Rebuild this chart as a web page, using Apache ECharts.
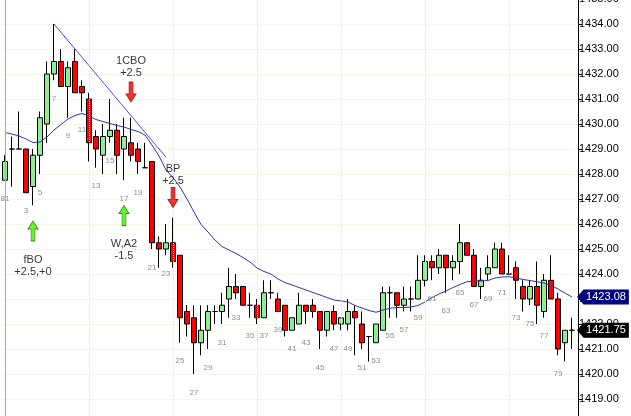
<!DOCTYPE html>
<html><head><meta charset="utf-8">
<script src="https://cdn.jsdelivr.net/npm/echarts@6/dist/echarts.min.js"></script>
<style>html,body{margin:0;padding:0;background:#fff}#c{width:631px;height:416px}</style>
</head><body><div id="c"></div>
<script>
// bar index 0 = previous session's bar 81, then bars 1..81
var opens  = [1427.75,1429.0,1429.0,1429.0,1427.5,1428.75,1430.0,1432.0,1432.5,1431.5,1432.5,1431.5,1431.0,1429.5,1428.75,1429.5,1429.75,1429.0,1429.25,1429.0,1428.25,1428.5,1425.25,1425.0,1425.25,1424.75,1422.5,1422.25,1421.25,1421.75,1422.5,1422.5,1423.0,1423.5,1423.5,1422.75,1422.75,1422.25,1423.25,1423.0,1422.75,1421.75,1422.0,1422.75,1422.75,1422.5,1421.75,1422.5,1422.0,1422.0,1422.5,1422.0,1421.5,1421.25,1421.75,1423.25,1423.25,1422.75,1423.0,1423.0,1423.75,1424.5,1424.25,1424.75,1424.25,1424.5,1425.25,1424.75,1423.5,1424.0,1424.25,1425.0,1424.0,1424.25,1423.5,1423.0,1423.5,1422.5,1423.75,1423.0,1421.25,1421.75];
var highs  = [1428.75,1429.5,1430.5,1429.0,1429.0,1430.5,1432.5,1434.0,1433.0,1432.5,1433.0,1431.75,1431.25,1429.75,1430.0,1431.0,1430.0,1430.25,1430.25,1429.25,1429.25,1428.5,1425.5,1426.0,1426.25,1424.75,1422.75,1422.75,1422.75,1422.75,1422.75,1423.25,1424.25,1424.0,1423.5,1423.25,1423.0,1423.75,1423.75,1423.25,1422.75,1422.25,1423.25,1422.75,1423.0,1422.5,1422.5,1422.75,1422.25,1423.0,1422.75,1422.5,1421.5,1422.0,1423.5,1423.5,1423.25,1423.5,1423.5,1424.75,1424.75,1424.75,1425.0,1424.75,1424.75,1426.0,1425.25,1425.0,1424.25,1424.75,1425.25,1425.25,1424.75,1424.5,1423.75,1423.75,1424.5,1424.0,1424.75,1423.25,1421.75,1422.25];
var lows   = [1427.75,1427.5,1429.0,1427.25,1426.75,1428.0,1429.25,1431.75,1431.5,1430.25,1431.25,1430.5,1428.5,1428.25,1428.0,1429.25,1428.0,1427.75,1428.5,1428.0,1428.25,1425.0,1424.25,1424.75,1424.25,1421.25,1421.5,1420.0,1420.75,1421.0,1422.0,1422.0,1422.25,1423.0,1422.75,1422.25,1422.0,1422.25,1423.0,1422.5,1421.5,1421.75,1422.0,1422.0,1422.25,1421.0,1421.5,1421.75,1421.75,1421.75,1420.75,1421.0,1420.5,1421.25,1421.75,1422.25,1422.25,1422.5,1422.5,1423.0,1423.5,1423.75,1424.0,1423.25,1423.75,1424.0,1424.75,1423.5,1423.0,1423.75,1424.25,1424.0,1424.0,1423.0,1422.5,1422.75,1422.0,1422.25,1423.0,1420.75,1420.5,1421.0];
var closes = [1428.5,1429.0,1429.0,1427.25,1428.75,1430.25,1432.0,1432.5,1431.5,1432.25,1431.25,1431.25,1429.25,1429.0,1429.5,1429.75,1428.75,1429.5,1428.75,1428.5,1428.25,1425.25,1425.0,1425.25,1424.5,1422.25,1422.0,1421.25,1421.75,1422.5,1422.5,1422.75,1423.5,1423.25,1422.75,1422.75,1422.25,1423.25,1423.25,1422.5,1421.75,1422.25,1422.75,1422.5,1422.5,1421.75,1422.5,1422.0,1422.25,1422.5,1422.25,1421.25,1421.5,1422.0,1423.25,1423.25,1422.75,1423.0,1423.0,1423.75,1424.5,1424.25,1424.75,1424.25,1424.5,1425.25,1424.75,1423.5,1423.75,1424.25,1425.0,1424.0,1424.0,1423.75,1423.0,1423.5,1422.75,1423.75,1423.0,1421.0,1421.75,1421.75];
var maValues = [1429.66,1429.6,1429.52,1429.4,1429.26,1429.28,1429.48,1429.76,1429.98,1430.2,1430.34,1430.42,1430.32,1430.18,1430.1,1430.02,1429.94,1429.88,1429.78,1429.7,1429.56,1429.16,1428.72,1428.16,1427.86,1427.48,1427.0,1426.48,1425.98,1425.68,1425.36,1425.1,1424.96,1424.82,1424.66,1424.48,1424.24,1424.1,1424.0,1423.8,1423.66,1423.56,1423.46,1423.36,1423.26,1423.16,1423.06,1422.96,1422.92,1422.88,1422.74,1422.64,1422.54,1422.47,1422.56,1422.63,1422.66,1422.66,1422.68,1422.74,1422.88,1423.06,1423.2,1423.32,1423.46,1423.58,1423.69,1423.72,1423.72,1423.74,1423.84,1423.88,1423.89,1423.84,1423.78,1423.74,1423.69,1423.64,1423.54,1423.4,1423.24,1423.08];
var barNumbers = ['81','','','3','','5','','7','','9','','11','','13','','15','','17','','19','','21','','23','','25','','27','','29','','31','','33','','35','','37','','39','','41','','43','','45','','47','','49','','51','','53','','55','','57','','59','','61','','63','','65','','67','','69','','71','','73','','75','','77','','79','',''];
var trendLine = [[7,1434.0],[23,1428.67]];
var gridBars = [0,12,24,36,48,60,72];
var noteText = ['1CBO\n+2.5','BP\n+2.5','fBO\n+2.5,+0','W,A2\n-1.5'];
var notePos  = [[18,1432.28],[24,1427.96],[4,1424.32],[17,1424.96]];
var arrowsDown = [[18,1431.28],[24,1427.06]];
var arrowsUp   = [[4,1425.72],[17,1426.34]];
var yMin = 1418, yMax = 1435;

var cats = opens.map(function(_, i){ return String(i); });
var ohlc = opens.map(function(o, i){ return [o, closes[i], lows[i], highs[i]]; });
var numData = [];
barNumbers.forEach(function(t, i){ if (t) numData.push({value:[i, lows[i]], name:t}); });
var noteData = noteText.map(function(t, i){ return {value: notePos[i], name: t}; });
var lastMA = maValues[maValues.length-1];
var lastClose = closes[closes.length-1];
var lastIdx = opens.length-1;
var FONT = '"Liberation Sans", Arial, sans-serif';
var tagPath = 'path://M0,7 L6,0 L48,0 L48,14 L6,14 Z';
var downPath = 'path://M3,0 L7,0 L7,12 L10,12 L5,20 L0,12 L3,12 Z';
var upPath = 'path://M5,0 L10,8 L7,8 L7,20 L3,20 L3,8 L0,8 Z';

var chart = echarts.init(document.getElementById('c'), null, {renderer:'canvas'});
chart.setOption({
  animation: false,
  backgroundColor: '#ffffff',
  grid: {left: 1.5, right: 55.5, top: -1, bottom: -8, containLabel: false, outerBoundsMode: 'none'},
  xAxis: {type:'category', data: cats, boundaryGap: true, show: false},
  yAxis: {
    type:'value', position:'right', offset: 2.5, min: yMin, max: yMax, interval: 1,
    axisLine: {show:true, lineStyle:{color:'#000', width:1}},
    axisTick: {show:true, length:4, lineStyle:{color:'#000'}},
    axisLabel: {color:'#000', fontSize:11, fontFamily: FONT, margin:1, showMaxLabel: true, showMinLabel: true, hideOverlap: false,
      formatter: function(v){ return v.toFixed(2); }},
    splitLine: {show:true, lineStyle:{color:'#efe8d4', type:'dotted', width:1}}
  },
  series: [
    {
      type:'candlestick', data: ohlc, barWidth: 5, z: 3,
      itemStyle: {color:'#90ee90', color0:'#ff0000', borderColor:'#000', borderColor0:'#000', borderColorDoji:'#000', borderWidth:1},
      markLine: {
        silent:true, symbol:['none','none'], label:{show:false}, animation:false,
        data: gridBars.map(function(b, k){ return {xAxis: b, lineStyle: k===0 ? {color:'#a8a8a8', type:'solid', width:1} : {color:'#e4e0d4', type:'dotted', width:1}}; })
      },
      markPoint: {
        silent:true, animation:false,
        data: [
          {coord:[lastIdx, lastMA], value: lastMA.toFixed(2), symbol: tagPath, symbolSize:[48,14], symbolOffset:[31,0], symbolKeepAspect:false,
           itemStyle:{color:'#000080', borderColor:'#000080'},
           label:{show:true, color:'#fff', fontSize:11, fontFamily:FONT, offset:[3,0], formatter:'{c}'}},
          {coord:[lastIdx, lastClose], value: lastClose.toFixed(2), symbol: tagPath, symbolSize:[48,14], symbolOffset:[31,0], symbolKeepAspect:false,
           itemStyle:{color:'#000000', borderColor:'#000'},
           label:{show:true, color:'#fff', fontSize:11, fontFamily:FONT, offset:[3,0], formatter:'{c}'}}
        ]
      }
    },
    {type:'line', data: maValues, symbol:'none', smooth:false, z:4, lineStyle:{color:'#3333aa', width:1}},
    {type:'line', data: trendLine, symbol:'none', z:4, lineStyle:{color:'#4b4bff', width:1}},
    {type:'scatter', data: numData, symbol:'circle', symbolSize:1, z:5, itemStyle:{color:'rgba(0,0,0,0)'},
      label:{show:true, position:'inside', offset:[0,18.5], color:'#707070', fontSize:8, fontFamily:FONT, formatter: function(p){ return p.name; }}},
    {type:'scatter', data: arrowsDown, symbol: downPath, symbolSize:[10,20], z:6, itemStyle:{color:'#ee0000', borderColor:'#880000', borderWidth:0.8}},
    {type:'scatter', data: arrowsUp, symbol: upPath, symbolSize:[10,20], z:6, itemStyle:{color:'#44ee00', borderColor:'#226600', borderWidth:0.8}},
    {type:'scatter', data: noteData, symbol:'circle', symbolSize:1, z:6, itemStyle:{color:'rgba(0,0,0,0)'},
      label:{show:true, position:'inside', color:'#000', fontSize:11, lineHeight:12, fontFamily:FONT, align:'center', formatter: function(p){ return p.name; }}}
  ]
});
</script></body></html>
